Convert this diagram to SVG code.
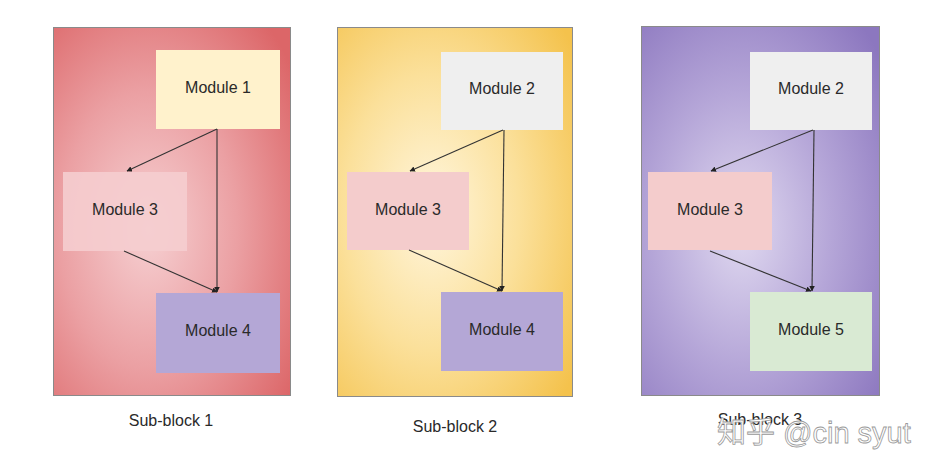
<svg xmlns="http://www.w3.org/2000/svg" width="935" height="475" viewBox="0 0 935 475">
<defs>
<radialGradient id="g1" cx="0.4" cy="0.55" r="0.75">
<stop offset="0" stop-color="#f6d0d2"/>
<stop offset="0.5" stop-color="#eba0a3"/>
<stop offset="1" stop-color="#dc6668"/>
</radialGradient>
<radialGradient id="g2" cx="0.4" cy="0.5" r="0.75">
<stop offset="0" stop-color="#fff6de"/>
<stop offset="0.5" stop-color="#fbe09a"/>
<stop offset="1" stop-color="#f4c24c"/>
</radialGradient>
<radialGradient id="g3" cx="0.42" cy="0.55" r="0.75">
<stop offset="0" stop-color="#e0d9f0"/>
<stop offset="0.5" stop-color="#b5a6d8"/>
<stop offset="1" stop-color="#8c77bf"/>
</radialGradient>
<marker id="ah" viewBox="0 0 10 10" refX="9" refY="5" markerWidth="5" markerHeight="5" orient="auto">
<path d="M0,0 L10,5 L0,10 z" fill="#222"/>
</marker>
</defs>
<style>
.panel{stroke:#8a8a8a;stroke-width:1}
.mod text,.lbl{font-family:"Liberation Sans",Arial,sans-serif;font-size:16px;fill:#2a2a2a;text-anchor:middle}
.conn line{stroke:#333;stroke-width:1.1;marker-end:url(#ah)}
.wm{font-family:"Liberation Sans","Noto Sans CJK SC",sans-serif;font-size:29px;fill:#fff;stroke:#999;stroke-width:0.8}
</style>
<rect fill="#fff" width="935" height="475"/>
<g id="panel1">
<rect class="panel" x="53.5" y="27.5" width="237" height="368" fill="url(#g1)"/>
</g>
<g id="panel2">
<rect class="panel" x="337.5" y="27.5" width="235" height="369" fill="url(#g2)"/>
</g>
<g id="panel3">
<rect class="panel" x="641.5" y="26.5" width="238" height="369" fill="url(#g3)"/>
</g>
<g id="p1-module1" class="mod"><rect x="156" y="50" width="124" height="79" fill="#fff2cc"/><text x="218" y="93">Module 1</text></g>
<g id="p1-module3" class="mod"><rect x="63" y="172" width="124" height="79" fill="#f5cdcf" fill-opacity="0.9"/><text x="125" y="215">Module 3</text></g>
<g id="p1-module4" class="mod"><rect x="156" y="293" width="124" height="80" fill="#b4a7d6"/><text x="218" y="336">Module 4</text></g>
<g id="p2-module2" class="mod"><rect x="441" y="52" width="122" height="78" fill="#efefef"/><text x="502" y="94">Module 2</text></g>
<g id="p2-module3" class="mod"><rect x="347" y="172" width="122" height="78" fill="#f4cccc"/><text x="408" y="215">Module 3</text></g>
<g id="p2-module4" class="mod"><rect x="441" y="292" width="122" height="79" fill="#b4a7d6"/><text x="502" y="335">Module 4</text></g>
<g id="p3-module2" class="mod"><rect x="750" y="52" width="122" height="78" fill="#efefef"/><text x="811" y="94">Module 2</text></g>
<g id="p3-module3" class="mod"><rect x="648" y="172" width="124" height="78" fill="#f4cccc"/><text x="710" y="215">Module 3</text></g>
<g id="p3-module5" class="mod"><rect x="750" y="292" width="122" height="79" fill="#d9ead3"/><text x="811" y="335">Module 5</text></g>
<g id="connectors" class="conn">
<line x1="217" y1="129" x2="127" y2="171"/>
<line x1="217" y1="129" x2="217" y2="292"/>
<line x1="124" y1="251" x2="217" y2="292"/>
<line x1="503" y1="130" x2="410" y2="171"/>
<line x1="504" y1="130" x2="502" y2="291"/>
<line x1="409" y1="250" x2="502" y2="291"/>
<line x1="813" y1="130" x2="711" y2="171"/>
<line x1="814" y1="130" x2="812" y2="291"/>
<line x1="710" y1="251" x2="811" y2="291"/>
</g>
<g id="labels">
<text class="lbl" x="171" y="426">Sub-block 1</text>
<text class="lbl" x="455" y="432">Sub-block 2</text>
<text class="lbl" x="760" y="425">Sub-block 3</text>
<text class="wm" x="717" y="443">知乎 @cin syut</text>
</g>
</svg>
